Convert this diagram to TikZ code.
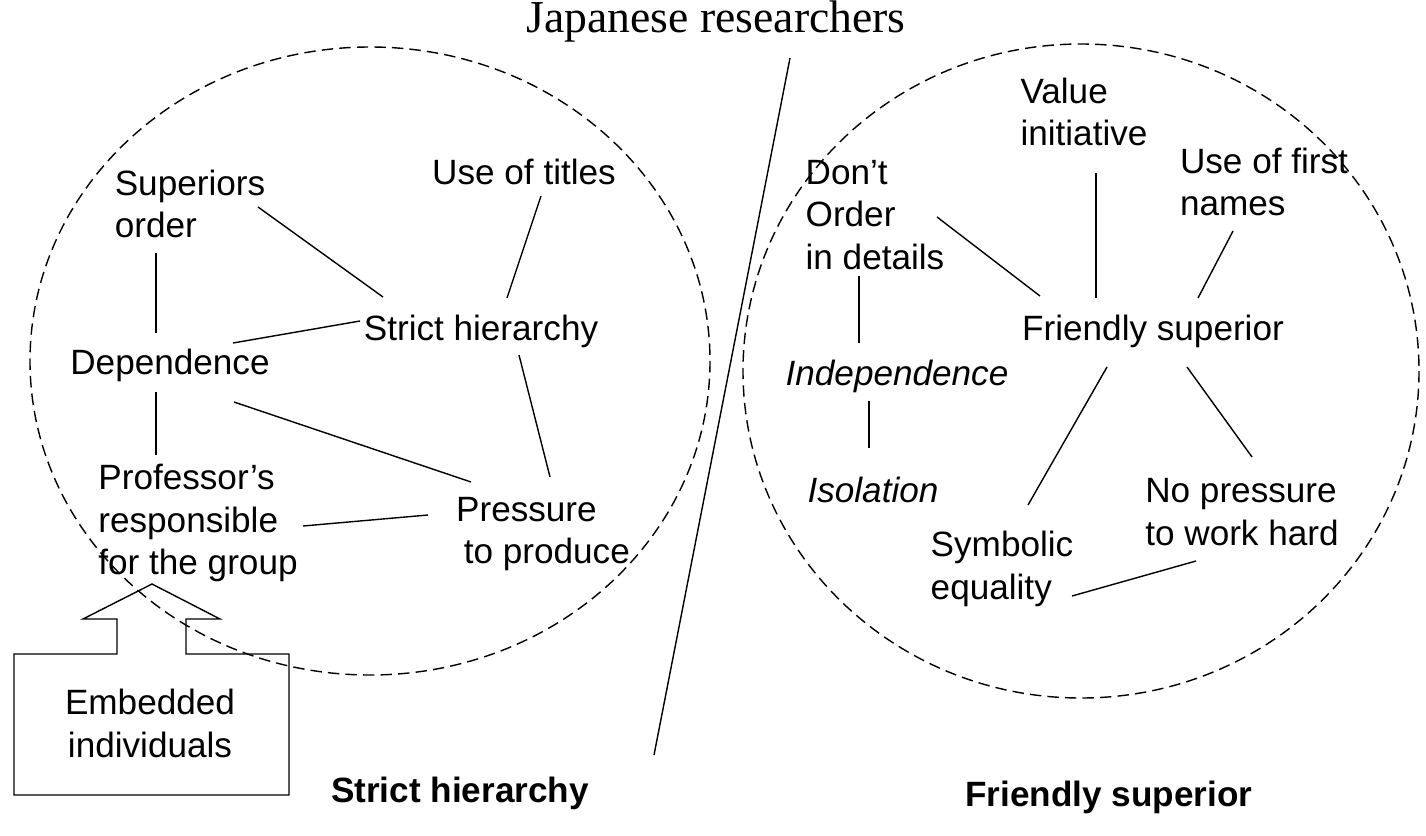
\documentclass[tikz,border=0pt]{standalone}
\usepackage{fontspec}
\setmainfont{Liberation Sans}
\newfontfamily\titlefont{Liberation Serif}

\begin{document}
\begin{tikzpicture}[x=0.02cm, y=-0.02cm, font=\fontsize{20}{24.4}\selectfont,
      idea/.style={align=left, inner sep=0pt},
      ring/.style={dash pattern=on 6.5pt off 3.5pt, line width=0.8pt},
      link/.style={line width=0.8pt}]
    \useasboundingbox (0,0) rectangle (1426,835);
    \node[inner sep=0pt, font=\titlefont\fontsize{26}{30}\selectfont] (title) at (716,22) {Japanese researchers};
    % the two groups
    \draw[ring] (370,361) ellipse [x radius=340, y radius=314];
    \draw[ring] (1081,371) ellipse [x radius=338, y radius=327];
    \draw[link] (790,58) -- (654,755);
    % strict hierarchy side
    \node[idea] (sup) at (190,204) {Superiors\\order};
    \node[idea] (titles) at (524,172) {Use of titles};
    \node[idea] (strict) at (481,331) {Strict hierarchy};
    \node[idea] (dep) at (170,365) {Dependence};
    \node[idea] (prof) at (198,523) {Professor’s\\responsible\\for the group};
    \node[idea] (press) at (543,534) {Pressure\\\hspace{0.22em}to produce};
    \node[font=\fontsize{20}{24.4}\selectfont\bfseries, inner sep=0pt] (lefttag) at (460,793) {Strict hierarchy};
    % friendly superior side
    \node[idea] (dont) at (875,215) {Don’t\\Order\\in details};
    \node[idea] (value) at (1084,112) {Value\\initiative};
    \node[idea] (first) at (1264,182) {Use of first\\names};
    \node[idea] (friendly) at (1153,331) {Friendly superior};
    \node[idea, font=\fontsize{20}{24.4}\selectfont\itshape] (indep) at (897,376) {Independence};
    \node[idea, font=\fontsize{20}{24.4}\selectfont\itshape] (isol) at (873,490) {Isolation};
    \node[idea] (symb) at (1002,569) {Symbolic\\equality};
    \node[idea] (nopress) at (1242,512) {No pressure\\to work hard};
    \node[font=\fontsize{20}{24.4}\selectfont\bfseries, inner sep=0pt] (righttag) at (1109,797) {Friendly superior};
    % callout
    \draw[link] (14,654) -- (117,654) -- (117,619) -- (83,619) -- (152,584) -- (220,619)
      -- (186,619) -- (186,654) -- (289,654) -- (289,795) -- (14,795) -- cycle;
    \node[align=center, inner sep=0pt] (embed) at (150,723) {Embedded\\individuals};
    % links
    \draw[link] ([shift={(68,3)}]sup.center) -- ([shift={(-98,-34)}]strict.center);
    \draw[link] ([shift={(17,24)}]titles.center) -- ([shift={(26,-33)}]strict.center);
    \draw[link] ([shift={(-34,49)}]sup.center) -- ([shift={(-14,-32)}]dep.center);
    \draw[link] ([shift={(63,-22)}]dep.center) -- ([shift={(-121,-10)}]strict.center);
    \draw[link] ([shift={(-14,27)}]dep.center) -- ([shift={(-42,-68)}]prof.center);
    \draw[link] ([shift={(64,37)}]dep.center) -- ([shift={(-72,-52)}]press.center);
    \draw[link] ([shift={(38,24)}]strict.center) -- ([shift={(7,-57)}]press.center);
    \draw[link] ([shift={(105,3)}]prof.center) -- ([shift={(-115,-19)}]press.center);
    \draw[link] ([shift={(62,2)}]dont.center) -- ([shift={(-113,-35)}]friendly.center);
    \draw[link] ([shift={(12,61)}]value.center) -- ([shift={(-57,-33)}]friendly.center);
    \draw[link] ([shift={(-31,49)}]first.center) -- ([shift={(45,-33)}]friendly.center);
    \draw[link] ([shift={(-16,61)}]dont.center) -- ([shift={(-38,-33)}]indep.center);
    \draw[link] ([shift={(-28,25)}]indep.center) -- ([shift={(-4,-42)}]isol.center);
    \draw[link] ([shift={(-46,36)}]friendly.center) -- ([shift={(26,-64)}]symb.center);
    \draw[link] ([shift={(34,36)}]friendly.center) -- ([shift={(10,-55)}]nopress.center);
    \draw[link] ([shift={(70,27)}]symb.center) -- ([shift={(-46,49)}]nopress.center);
  \end{tikzpicture}
\end{document}
